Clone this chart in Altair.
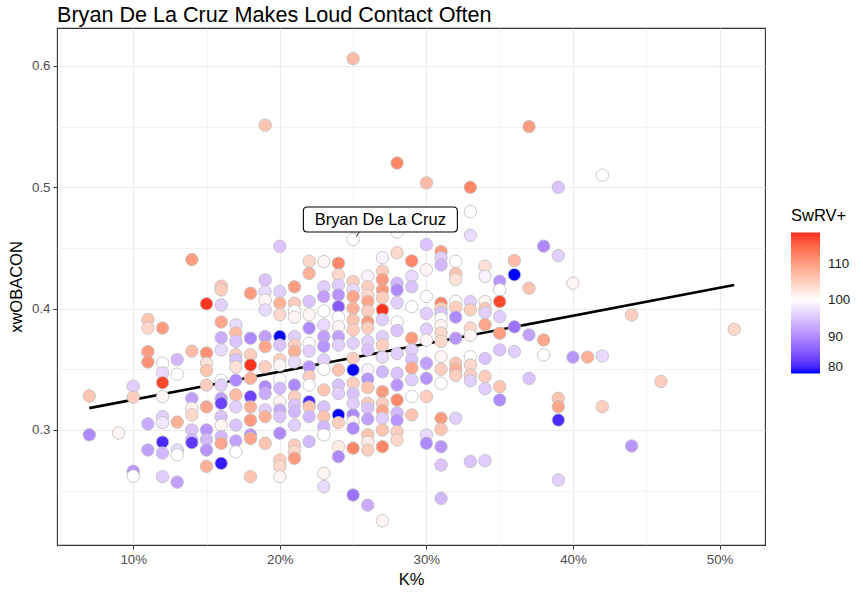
import altair as alt
import pandas as pd

# ---- hitter data: K%, xwOBACON and SwRV+ (one line per K% value) ----
k_pct = [
    0.07, 0.07,
    0.09,
    0.10, 0.10, 0.10, 0.10,
    0.11, 0.11, 0.11, 0.11, 0.11, 0.11,
    0.12, 0.12, 0.12, 0.12, 0.12, 0.12, 0.12, 0.12, 0.12, 0.12,
    0.13, 0.13, 0.13, 0.13, 0.13, 0.13,
    0.14, 0.14, 0.14, 0.14, 0.14, 0.14, 0.14, 0.14,
    0.15, 0.15, 0.15, 0.15, 0.15, 0.15, 0.15, 0.15, 0.15, 0.15,
    0.16, 0.16, 0.16, 0.16, 0.16, 0.16, 0.16, 0.16, 0.16, 0.16, 0.16, 0.16, 0.16, 0.16, 0.16,
    0.17, 0.17, 0.17, 0.17, 0.17, 0.17, 0.17, 0.17, 0.17, 0.17, 0.17, 0.17,
    0.18, 0.18, 0.18, 0.18, 0.18, 0.18, 0.18, 0.18, 0.18, 0.18, 0.18,
    0.19, 0.19, 0.19, 0.19, 0.19, 0.19, 0.19, 0.19, 0.19, 0.19, 0.19, 0.19, 0.19,
    0.20, 0.20, 0.20, 0.20, 0.20, 0.20, 0.20, 0.20, 0.20, 0.20, 0.20, 0.20, 0.20, 0.20, 0.20, 0.20, 0.20,
    0.21, 0.21, 0.21, 0.21, 0.21, 0.21, 0.21, 0.21, 0.21, 0.21, 0.21, 0.21, 0.21, 0.21, 0.21, 0.21,
    0.22, 0.22, 0.22, 0.22, 0.22, 0.22, 0.22, 0.22, 0.22, 0.22, 0.22, 0.22, 0.22, 0.22,
    0.23, 0.23, 0.23, 0.23, 0.23, 0.23, 0.23, 0.23, 0.23, 0.23, 0.23, 0.23, 0.23, 0.23, 0.23, 0.23,
    0.24, 0.24, 0.24, 0.24, 0.24, 0.24, 0.24, 0.24, 0.24, 0.24, 0.24, 0.24, 0.24, 0.24, 0.24, 0.24,
    0.25, 0.25, 0.25, 0.25, 0.25, 0.25, 0.25, 0.25, 0.25, 0.25, 0.25, 0.25, 0.25, 0.25, 0.25, 0.25, 0.25, 0.25, 0.25,
    0.26, 0.26, 0.26, 0.26, 0.26, 0.26, 0.26, 0.26, 0.26, 0.26, 0.26, 0.26, 0.26, 0.26, 0.26, 0.26, 0.26, 0.26, 0.26,
    0.27, 0.27, 0.27, 0.27, 0.27, 0.27, 0.27, 0.27, 0.27, 0.27, 0.27, 0.27, 0.27, 0.27, 0.27, 0.27, 0.27, 0.27,
    0.28, 0.28, 0.28, 0.28, 0.28, 0.28, 0.28, 0.28, 0.28, 0.28, 0.28, 0.28, 0.28, 0.28, 0.28, 0.28,
    0.29, 0.29, 0.29, 0.29, 0.29, 0.29, 0.29, 0.29, 0.29, 0.29, 0.29,
    0.30, 0.30, 0.30, 0.30, 0.30, 0.30, 0.30, 0.30, 0.30, 0.30, 0.30, 0.30,
    0.31, 0.31, 0.31, 0.31, 0.31, 0.31, 0.31, 0.31, 0.31, 0.31, 0.31, 0.31, 0.31, 0.31, 0.31, 0.31, 0.31, 0.31,
    0.32, 0.32, 0.32, 0.32, 0.32, 0.32, 0.32, 0.32, 0.32, 0.32, 0.32,
    0.33, 0.33, 0.33, 0.33, 0.33, 0.33, 0.33, 0.33, 0.33, 0.33, 0.33, 0.33,
    0.34, 0.34, 0.34, 0.34, 0.34, 0.34, 0.34, 0.34, 0.34, 0.34,
    0.35, 0.35, 0.35, 0.35, 0.35, 0.35, 0.35, 0.35,
    0.36, 0.36, 0.36, 0.36,
    0.37, 0.37, 0.37, 0.37,
    0.38, 0.38, 0.38,
    0.39, 0.39, 0.39, 0.39, 0.39, 0.39,
    0.40, 0.40,
    0.41,
    0.42, 0.42, 0.42,
    0.44, 0.44,
    0.46,
    0.51,
]

xwobacon = [
    0.328, 0.296,
    0.2975,
    0.336, 0.327, 0.266, 0.262,
    0.391, 0.384, 0.3645, 0.356, 0.305, 0.2835,
    0.384, 0.355, 0.347, 0.339, 0.3275, 0.311, 0.306, 0.290, 0.281, 0.2615,
    0.358, 0.346, 0.3065, 0.2835, 0.2795, 0.257,
    0.4404, 0.365, 0.326, 0.318, 0.3125, 0.300, 0.292, 0.2895,
    0.404, 0.3635, 0.355, 0.349, 0.337, 0.319, 0.300, 0.292, 0.2835, 0.270,
    0.4185, 0.4154, 0.403, 0.389, 0.376, 0.366, 0.341, 0.337, 0.326, 0.322, 0.311, 0.304, 0.2945, 0.289, 0.2725,
    0.3866, 0.380, 0.373, 0.362, 0.358, 0.352, 0.341, 0.329, 0.319, 0.304, 0.291, 0.282,
    0.4127, 0.3756, 0.362, 0.3535, 0.3426, 0.3275, 0.319, 0.308, 0.296, 0.293, 0.2615,
    0.5512, 0.4236, 0.414, 0.407, 0.399, 0.377, 0.3687, 0.352, 0.3357, 0.330, 0.3165, 0.311, 0.289,
    0.4514, 0.414, 0.4045, 0.395, 0.377, 0.370, 0.358, 0.3535, 0.3416, 0.3344, 0.3233, 0.3165, 0.311, 0.2973, 0.2753, 0.270, 0.2615,
    0.418, 0.4045, 0.398, 0.393, 0.377, 0.370, 0.3646, 0.356, 0.337, 0.3275, 0.3206, 0.315, 0.304, 0.2876, 0.2822, 0.2767,
    0.439, 0.429, 0.406, 0.395, 0.384, 0.3714, 0.365, 0.352, 0.344, 0.337, 0.3233, 0.319, 0.311, 0.2904,
    0.4387, 0.418, 0.410, 0.398, 0.3866, 0.377, 0.369, 0.3577, 0.350, 0.333, 0.319, 0.311, 0.3027, 0.2959, 0.2643, 0.2533,
    0.4374, 0.4278, 0.4195, 0.4113, 0.4016, 0.393, 0.385, 0.377, 0.370, 0.3495, 0.337, 0.330, 0.3124, 0.306, 0.2862, 0.278,
    0.606, 0.457, 0.4223, 0.4155, 0.410, 0.4003, 0.3907, 0.3824, 0.3715, 0.359, 0.3495, 0.3385, 0.330, 0.322, 0.3124, 0.3068, 0.3014, 0.285, 0.2464,
    0.4267, 0.418, 0.411, 0.4058, 0.398, 0.389, 0.384, 0.373, 0.366, 0.3495, 0.342, 0.335, 0.322, 0.318, 0.309, 0.296, 0.290, 0.2835, 0.238,
    0.442, 0.431, 0.424, 0.4154, 0.409, 0.399, 0.391, 0.377, 0.370, 0.360, 0.348, 0.3316, 0.322, 0.316, 0.3096, 0.300, 0.2862, 0.2252,
    0.520, 0.463, 0.446, 0.421, 0.4154, 0.405, 0.389, 0.382, 0.363, 0.3467, 0.337, 0.3247, 0.314, 0.308, 0.2986, 0.2918,
    0.4393, 0.4267, 0.418, 0.4016, 0.3756, 0.366, 0.358, 0.351, 0.3413, 0.3275, 0.3124,
    0.5036, 0.4528, 0.432, 0.410, 0.396, 0.383, 0.374, 0.355, 0.3426, 0.3275, 0.2959, 0.289,
    0.447, 0.442, 0.436, 0.4045, 0.400, 0.3966, 0.392, 0.386, 0.380, 0.373, 0.3604, 0.350, 0.3385, 0.3097, 0.3006, 0.2862, 0.2711, 0.2437,
    0.439, 0.429, 0.424, 0.406, 0.401, 0.393, 0.3756, 0.355, 0.350, 0.345, 0.3097,
    0.500, 0.480, 0.4605, 0.4058, 0.399, 0.384, 0.378, 0.3604, 0.3535, 0.3453, 0.3405, 0.274,
    0.435, 0.4267, 0.4058, 0.400, 0.3967, 0.3868, 0.359, 0.344, 0.334, 0.2747,
    0.4226, 0.4155, 0.4058, 0.3934, 0.3797, 0.366, 0.3357, 0.3247,
    0.4396, 0.428, 0.385, 0.3646,
    0.550, 0.4168, 0.3783, 0.3426,
    0.4515, 0.3742, 0.3618,
    0.500, 0.4437, 0.3261, 0.3192, 0.3082, 0.2588,
    0.421, 0.360,
    0.360,
    0.510, 0.361, 0.3192,
    0.3948, 0.2868,
    0.340,
    0.383,
]

swrv_plus = [
    106, 90,
    101,
    96, 105, 91, 100,
    106, 104, 110, 111, 93, 92,
    110, 100, 97, 117, 101, 96, 98, 82, 94, 96,
    94, 100, 108, 97, 100, 92,
    110, 107, 92, 101, 104, 95, 94, 83,
    118, 111, 103, 106, 105, 109, 91, 94, 91, 108,
    106, 105, 96, 109, 93, 97, 100, 96, 92, 84, 95, 101, 94, 109, 81,
    97, 107, 95, 105, 95, 103, 90, 107, 96, 95, 92, 100,
    110, 90, 105, 118, 108, 84, 108, 110, 91, 109, 106,
    106, 95, 97, 101, 97, 92, 109, 105, 90, 93, 96, 108, 106,
    95, 96, 108, 104, 80, 95, 105, 101, 100, 94, 101, 93, 95, 90, 105, 104, 101,
    110, 105, 100, 101, 96, 105, 108, 97, 90, 105, 95, 94, 96, 105, 104, 110,
    104, 108, 95, 101, 90, 100, 96, 91, 105, 100, 82, 106, 94, 94,
    101, 96, 92, 100, 97, 92, 91, 96, 100, 106, 95, 106, 94, 100, 101, 97,
    112, 104, 96, 91, 86, 100, 101, 92, 96, 106, 95, 96, 80, 105, 102, 90,
    107, 100, 105, 97, 109, 108, 106, 105, 96, 105, 80, 105, 95, 96, 90, 101, 90, 112, 88,
    99, 105, 104, 109, 105, 110, 105, 96, 95, 99, 91, 106, 105, 95, 92, 106, 102, 105, 93,
    99, 105, 110, 110, 105, 118, 96, 96, 105, 97, 94, 110, 105, 109, 96, 106, 112, 101,
    112, 100, 104, 94, 90, 96, 100, 95, 96, 95, 91, 112, 94, 91, 105, 104,
    112, 97, 95, 100, 110, 96, 95, 109, 96, 100, 106,
    107, 95, 101, 100, 96, 96, 101, 92, 91, 105, 97, 90,
    110, 96, 94, 112, 105, 95, 100, 101, 104, 104, 101, 105, 100, 110, 106, 91, 95, 94,
    100, 106, 103, 100, 105, 90, 91, 106, 108, 105, 96,
    112, 100, 97, 96, 105, 104, 101, 100, 104, 105, 96, 95,
    103, 99, 101, 106, 96, 109, 95, 105, 96, 96,
    91, 100, 117, 96, 110, 95, 106, 90,
    107, 80, 88, 96,
    110, 106, 92, 95,
    90, 109, 100,
    95, 96, 106, 109, 82, 96,
    101, 91,
    108,
    100, 97, 105,
    105, 91,
    105,
    104,
]

# linear fit of xwOBACON on K%
fit_k = [0.07, 0.51]
fit_xwobacon = [0.318, 0.4195]

# labelled hitter
label_name = ["Bryan De La Cruz"]
label_k = [0.2686]
label_xwobacon = [0.4735]
# leader segment from the label box down to the hitter's point
leader_k = [0.2541]
leader_xwobacon = [0.4632]
leader_k2 = [0.2522]
leader_xwobacon2 = [0.4592]

x_ticks = [0.05, 0.10, 0.15, 0.20, 0.25, 0.30, 0.35, 0.40, 0.45, 0.50]
y_ticks = [0.25, 0.30, 0.35, 0.40, 0.45, 0.50, 0.55, 0.60]
legend_ticks = [80, 90, 100, 110]

points = pd.DataFrame({"k": k_pct, "xwobacon": xwobacon, "swrv": swrv_plus})
fit = pd.DataFrame({"k": fit_k, "xwobacon": fit_xwobacon})
label = pd.DataFrame({"k": label_k, "xwobacon": label_xwobacon, "name": label_name})
leader = pd.DataFrame({"k": leader_k, "xwobacon": leader_xwobacon,
                       "k2": leader_k2, "xwobacon2": leader_xwobacon2})

FONT = "Liberation Sans"
MAJOR = "abs(datum.value * 10 - round(datum.value * 10)) < 0.001"


def axis(ticks, fmt, title_pad):
    return alt.Axis(
        values=ticks,
        format=fmt,
        labelExpr=f"{MAJOR} ? datum.label : ''",
        tickOpacity={"condition": {"test": MAJOR, "value": 1}, "value": 0},
        gridWidth={"condition": {"test": MAJOR, "value": 1.1}, "value": 0.55},
        gridColor="#ebebeb",
        domain=False,
        tickColor="#333333",
        tickSize=4,
        labelColor="#4d4d4d",
        labelFont=FONT,
        labelFontSize=13.3,
        labelPadding=3,
        titleFont=FONT,
        titleFontSize=16.5,
        titleFontWeight="normal",
        titleColor="black",
        titlePadding=title_pad,
    )


x_scale = alt.Scale(domain=[0.048, 0.531], nice=False, zero=False)
y_scale = alt.Scale(domain=[0.2052, 0.6313], nice=False, zero=False)

X = alt.X("k:Q", title="K%", scale=x_scale, axis=axis(x_ticks, ".0%", 6))
Y = alt.Y("xwobacon:Q", title="xwOBACON", scale=y_scale, axis=axis(y_ticks, ".1f", 7))

color_scale = alt.Scale(domain=[80, 100, 118.5],
                        range=["#0000ff", "#ffffff", "#ff2a1a"],
                        interpolate="lab")

fit_line = alt.Chart(fit).mark_line(color="black", strokeWidth=2.6).encode(x=X, y=Y)

dots = alt.Chart(points).mark_point(
    filled=True, shape="circle", size=155, opacity=1,
    stroke="#bdbdbd", strokeWidth=0.9, strokeOpacity=0.9,
).encode(
    x=X, y=Y,
    color=alt.Color(
        "swrv:Q", scale=color_scale,
        legend=alt.Legend(
            title="SwRV+", orient="none", legendX=734, legendY=180,
            direction="vertical", gradientLength=141, gradientThickness=29,
            gradientStrokeWidth=0, values=legend_ticks,
            titleFont=FONT, titleFontSize=16.5, titleFontWeight="normal",
            titleColor="black", titlePadding=8,
            labelFont=FONT, labelFontSize=13.3, labelColor="#1a1a1a", labelOffset=8,
        ),
    ),
)

leader_rule = alt.Chart(leader).mark_rule(color="#333333", strokeWidth=1).encode(
    x=X, y=Y, x2="k2:Q", y2="xwobacon2:Q"
)

# rounded label box (unit path scaled by the symbol size)
box_path = ("M -0.948 -0.162 L 0.948 -0.162 Q 1 -0.162 1 -0.11 L 1 0.11 "
            "Q 1 0.162 0.948 0.162 L -0.948 0.162 Q -1 0.162 -1 0.11 "
            "L -1 -0.11 Q -1 -0.162 -0.948 -0.162 Z")
label_box = alt.Chart(label).mark_point(
    shape=box_path, size=154 * 154, filled=True, fill="white", opacity=1,
    stroke="black", strokeWidth=1.1,
).encode(x=X, y=Y)

label_text = alt.Chart(label).mark_text(
    font=FONT, fontSize=16.5, color="black", baseline="middle", align="center", dy=1,
).encode(x=X, y=Y, text="name:N")

chart = alt.layer(fit_line, dots, leader_rule, label_box, label_text).properties(
    width=708,
    height=517,
    background="white",
    autosize=alt.AutoSizeParams(type="none"),
    padding={"left": 57, "top": 28, "right": 98, "bottom": 54},
    title=alt.TitleParams(
        "Bryan De La Cruz Makes Loud Contact Often",
        anchor="start", frame="group", font=FONT, fontSize=21.6, fontWeight="normal",
        color="black", offset=1,
    ),
).configure_view(stroke="#333333", strokeWidth=1.1)

chart.save("out.html", embed_options={"renderer": "svg", "actions": False})
